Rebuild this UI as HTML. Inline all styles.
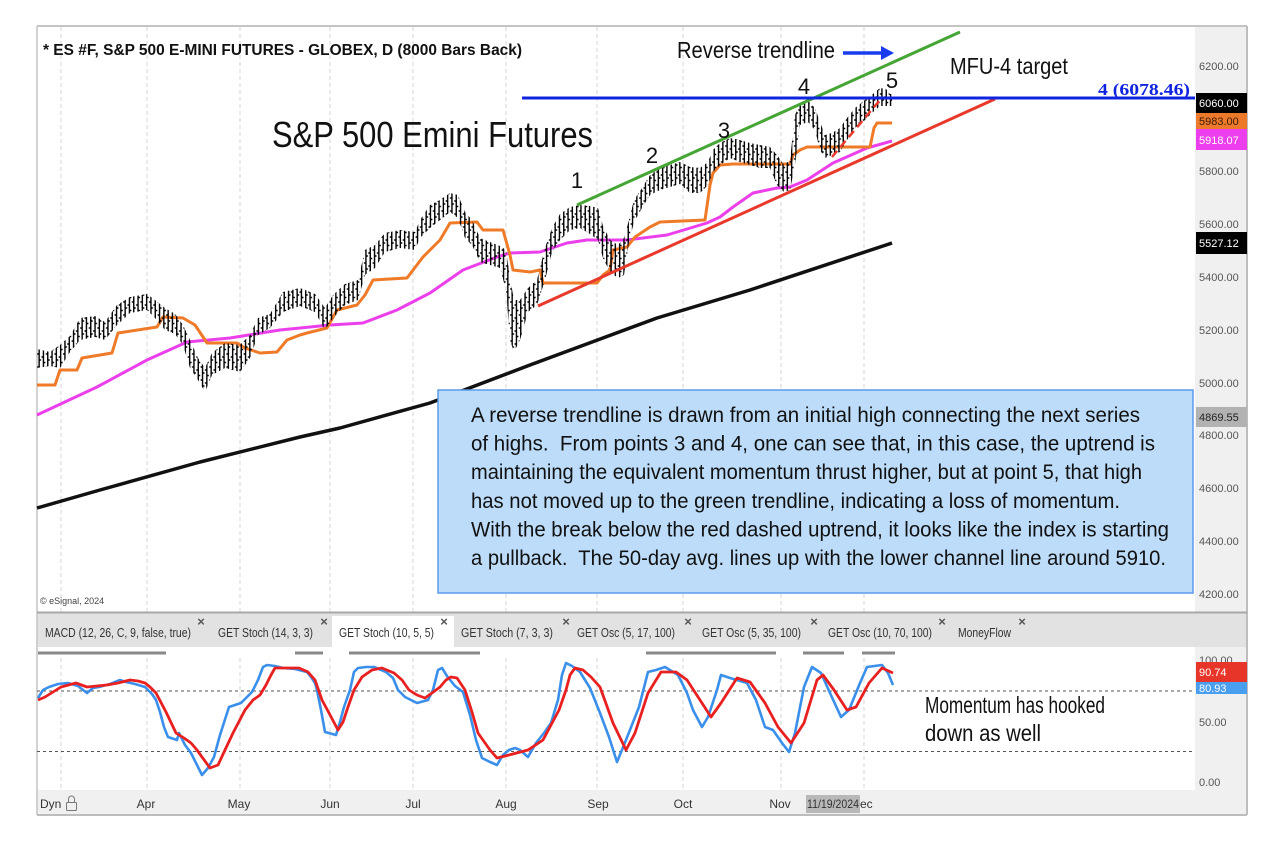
<!DOCTYPE html>
<html><head><meta charset="utf-8">
<style>
html,body{margin:0;padding:0;background:#fff;}
svg{display:block;font-family:"Liberation Sans",Arial,sans-serif;}
.ax{font-size:11px;fill:#555;}
.tab{font-size:12.5px;fill:#333;}
.x{font-size:13px;fill:#555;font-weight:bold;}
.bt{font-size:21px;fill:#111;white-space:pre;}
.dl{font-size:12px;fill:#333;}
</style></head><body>
<svg width="1280" height="843" viewBox="0 0 1280 843" xmlns="http://www.w3.org/2000/svg">
<defs>
<pattern id="bp" x="37" y="0" width="8.6" height="13" patternUnits="userSpaceOnUse">
<path d="M2.15 0V13M6.45 0V13M0.2 3H2.15M2.15 9H4.1M4.5 6H6.45M6.45 11.5H8.4" stroke="#000" stroke-width="1.4" fill="none"/>
</pattern>
</defs>
<rect width="1280" height="843" fill="#fff"/>

<!-- axis backgrounds -->
<rect x="1195" y="27" width="52" height="585" fill="#f0f0f0"/>
<rect x="1195" y="647" width="52" height="143" fill="#f0f0f0"/>
<rect x="37" y="790" width="1210" height="25" fill="#f0f0f0"/>
<!-- tab bar -->
<rect x="37" y="613" width="1210" height="34" fill="#e2e2e2"/>
<rect x="332" y="616" width="122" height="32" fill="#fff"/>

<!-- vertical grid -->
<g stroke="#d6d6d6" stroke-width="1" stroke-dasharray="4 3">
<path d="M61 27V612M147 27V612M240 27V612M330 27V612M413 27V612M506 27V612M597 27V612M683 27V612M781 27V612M864 27V612"/>
<path d="M61 658V790M147 658V790M240 658V790M330 658V790M413 658V790M506 658V790M597 658V790M683 658V790M781 658V790M864 658V790"/>
</g>

<!-- frame lines -->
<path d="M37 26H1247" stroke="#c4c4c4" stroke-width="2"/>
<path d="M37 26V815" stroke="#c4c4c4" stroke-width="1.5"/>
<path d="M1247 26V815" stroke="#bdbdbd" stroke-width="2"/>
<path d="M37 612.5H1247" stroke="#a8a8a8" stroke-width="2"/>
<path d="M37 815H1247" stroke="#bdbdbd" stroke-width="2"/>

<!-- header -->
<text x="43" y="55" font-size="16" font-weight="bold" fill="#111" textLength="479" lengthAdjust="spacingAndGlyphs">* ES #F, S&amp;P 500 E-MINI FUTURES - GLOBEX, D (8000 Bars Back)</text>
<text x="272" y="147" font-size="36" fill="#111" textLength="321" lengthAdjust="spacingAndGlyphs">S&amp;P 500 Emini Futures</text>
<text x="40" y="604" font-size="9" fill="#444">© eSignal, 2024</text>

<!-- MA200 black -->
<polyline fill="none" stroke="#111" stroke-width="3.5" stroke-linejoin="round" points="37,508 100,490 200,462 300,437 340,428 430,403 530,365 657,318 750,290 892,243"/>
<!-- magenta MA50 -->
<polyline fill="none" stroke="#ec3fec" stroke-width="3" stroke-linejoin="round" points="37,415 97,387 147,360 187,342 230,338 280,330 330,325 363,323 397,310 430,293 463,270 497,257 510,253 540,252 567,243 587,240 627,240 667,235 707,223 720,217 733,207 753,193 777,188 790,187 807,180 833,163 867,148 892,141"/>
<!-- orange -->
<polyline fill="none" stroke="#ef7a28" stroke-width="3" stroke-linejoin="round" points="37,385 55,385 60,370 77,370 82,358 112,353 118,333 157,327 163,317 183,318 195,325 203,337 207,343 237,343 245,348 260,353 277,352 287,340 300,335 307,333 327,328 337,310 357,305 365,295 373,280 407,278 423,257 440,240 450,223 477,222 483,230 503,230 510,255 513,270 530,272 540,270 543,283 597,283 603,275 610,270 613,250 627,247 635,237 650,227 660,222 705,220 710,185 713,173 720,165 733,164 790,164 793,155 800,150 807,147 870,147 874,128 877,123 892,123"/>

<!-- price bars (band filled with bar pattern) -->
<polygon fill="url(#bp)" points="37,349 50,352 60,345 70,336 80,318 95,316 105,322 117,305 130,297 147,294 155,300 165,308 175,314 183,325 190,340 198,358 205,368 212,353 225,343 240,345 250,335 258,318 270,314 283,292 300,288 315,294 325,308 333,295 345,284 358,280 365,250 375,245 385,233 400,230 415,232 420,220 430,205 440,200 450,193 458,195 465,212 472,220 480,238 490,242 500,246 506,250 510,278 514,300 520,300 528,288 537,280 545,248 552,228 560,214 570,207 580,205 590,206 598,208 603,226 610,240 618,245 624,238 629,220 634,200 642,188 650,175 660,168 670,165 680,162 690,167 700,168 708,162 713,150 720,143 730,138 740,140 750,143 760,145 770,147 777,155 784,165 790,160 795,115 800,103 808,101 815,108 820,122 825,135 832,133 840,128 847,118 855,108 865,100 873,94 880,88 886,89 890,94 892,94 892,106 890,106 886,106 880,106 873,112 865,120 855,128 847,140 840,152 832,155 825,158 820,150 815,130 808,122 800,125 795,165 790,190 784,192 777,185 770,168 760,168 750,165 740,162 730,158 720,165 713,172 708,185 700,193 690,193 680,184 670,187 660,190 650,195 642,208 634,222 629,242 624,275 618,278 610,272 603,258 598,240 590,234 580,228 570,230 560,240 552,252 545,280 537,305 528,312 520,340 514,352 510,340 506,290 500,268 490,265 480,262 472,245 465,238 458,218 450,212 440,220 430,228 420,238 415,250 400,248 385,252 375,268 365,275 358,300 345,305 333,318 325,330 315,312 300,306 283,312 270,328 258,335 250,358 240,372 225,368 212,375 205,392 198,380 190,368 183,345 175,334 165,330 155,318 147,310 130,313 117,325 105,340 95,337 80,340 70,352 60,368 50,366 37,368"/>

<!-- trendlines -->
<line x1="577" y1="205" x2="960" y2="32" stroke="#45a535" stroke-width="3"/>
<line x1="538" y1="306" x2="995" y2="99" stroke="#e8392b" stroke-width="3"/>
<line x1="832" y1="157" x2="880" y2="100" stroke="#e8392b" stroke-width="2.5" stroke-dasharray="8 5"/>
<line x1="522" y1="98" x2="1195" y2="98" stroke="#1024e0" stroke-width="3"/>
<text x="1098" y="95" font-family="Liberation Serif, serif" font-size="17" font-weight="bold" fill="#1024e0" textLength="92" lengthAdjust="spacingAndGlyphs">4 (6078.46)</text>

<!-- point labels -->
<g font-size="22" fill="#111" text-anchor="middle">
<text x="577" y="188">1</text>
<text x="652" y="163">2</text>
<text x="724" y="138">3</text>
<text x="804" y="94">4</text>
<text x="892" y="88">5</text>
</g>
<text x="677" y="58" font-size="23" fill="#111" textLength="158" lengthAdjust="spacingAndGlyphs">Reverse trendline</text>
<line x1="843" y1="53" x2="884" y2="53" stroke="#1a3cf0" stroke-width="3.5"/>
<polygon points="881,46 894,53 881,60" fill="#1a3cf0"/>
<text x="950" y="74" font-size="23" fill="#111" textLength="118" lengthAdjust="spacingAndGlyphs">MFU-4 target</text>

<!-- text box -->
<rect x="438" y="390" width="755" height="203" fill="#bcdcfa" stroke="#5a9cec" stroke-width="1.5"/>
<text class="bt" x="471" y="422" textLength="669" lengthAdjust="spacingAndGlyphs">A reverse trendline is drawn from an initial high connecting the next series</text>
<text class="bt" x="471" y="450.6" textLength="684" lengthAdjust="spacingAndGlyphs">of highs.  From points 3 and 4, one can see that, in this case, the uptrend is</text>
<text class="bt" x="471" y="479.2" textLength="671" lengthAdjust="spacingAndGlyphs">maintaining the equivalent momentum thrust higher, but at point 5, that high</text>
<text class="bt" x="471" y="507.8" textLength="649" lengthAdjust="spacingAndGlyphs">has not moved up to the green trendline, indicating a loss of momentum.</text>
<text class="bt" x="471" y="536.4" textLength="698" lengthAdjust="spacingAndGlyphs">With the break below the red dashed uptrend, it looks like the index is starting</text>
<text class="bt" x="471" y="565" textLength="695" lengthAdjust="spacingAndGlyphs">a pullback.  The 50-day avg. lines up with the lower channel line around 5910.</text>

<!-- price axis labels -->
<g class="ax">
<text x="1199" y="70">6200.00</text>
<text x="1199" y="175">5800.00</text>
<text x="1199" y="228">5600.00</text>
<text x="1199" y="281">5400.00</text>
<text x="1199" y="334">5200.00</text>
<text x="1199" y="387">5000.00</text>
<text x="1199" y="439">4800.00</text>
<text x="1199" y="492">4600.00</text>
<text x="1199" y="545">4400.00</text>
<text x="1199" y="598">4200.00</text>
</g>
<rect x="1196" y="93" width="51" height="20" fill="#000"/>
<text class="ax" x="1199" y="107" style="fill:#fff">6060.00</text>
<rect x="1196" y="113" width="51" height="16" fill="#ec7a2a"/>
<text class="ax" x="1199" y="125" style="fill:#3a1a05">5983.00</text>
<rect x="1196" y="129" width="51" height="21" fill="#ec3eec"/>
<text class="ax" x="1199" y="144" style="fill:#fff">5918.07</text>
<rect x="1196" y="232" width="51" height="22" fill="#000"/>
<text class="ax" x="1199" y="247" style="fill:#fff">5527.12</text>
<rect x="1196" y="407" width="51" height="20" fill="#b2b2b2"/>
<text class="ax" x="1199" y="421" style="fill:#222">4869.55</text>

<!-- tabs -->
<text class="tab" x="45" y="637" textLength="146" lengthAdjust="spacingAndGlyphs">MACD (12, 26, C, 9, false, true)</text>
<text class="tab" x="218" y="637" textLength="95" lengthAdjust="spacingAndGlyphs">GET Stoch (14, 3, 3)</text>
<text class="tab" x="339" y="637" textLength="95" lengthAdjust="spacingAndGlyphs">GET Stoch (10, 5, 5)</text>
<text class="tab" x="461" y="637" textLength="92" lengthAdjust="spacingAndGlyphs">GET Stoch (7, 3, 3)</text>
<text class="tab" x="577" y="637" textLength="98" lengthAdjust="spacingAndGlyphs">GET Osc (5, 17, 100)</text>
<text class="tab" x="702" y="637" textLength="99" lengthAdjust="spacingAndGlyphs">GET Osc (5, 35, 100)</text>
<text class="tab" x="828" y="637" textLength="104" lengthAdjust="spacingAndGlyphs">GET Osc (10, 70, 100)</text>
<text class="tab" x="958" y="637" textLength="53" lengthAdjust="spacingAndGlyphs">MoneyFlow</text>
<g class="x" text-anchor="middle">
<text x="201" y="626">×</text><text x="324" y="626">×</text><text x="444" y="626">×</text><text x="566" y="626">×</text>
<text x="688" y="626">×</text><text x="814" y="626">×</text><text x="942" y="626">×</text><text x="1022" y="626">×</text>
</g>
<!-- gray bars -->
<g stroke="#888" stroke-width="3">
<path d="M38 653H166M295 653H323M349 653H480M646 653H776M803 653H844M862 653H895"/>
</g>

<!-- lower pane dashed levels -->
<path d="M37 691H1195M37 751.5H1195" stroke="#555" stroke-width="1" stroke-dasharray="3 3"/>

<!-- stoch lines -->
<polyline fill="none" stroke="#3a8fea" stroke-width="2.6" stroke-linejoin="round" points="38,698 43,690 49,687 58,684 68,683 78,686 87,693 93,688 99,687 110,684 120,680 126,682 135,684 145,687 152,694 156,700 160,712 164,727 168,737 177,740 179,733 185,745 191,753 197,765 202,775 208,768 214,757 220,735 229,707 241,703 252,692 258,680 263,667 267,665 275,666 283,668 295,669 307,672 311,677 315,683 317,690 321,710 325,732 336,735 340,722 344,707 350,690 354,672 358,668 366,667 374,667 386,672 393,678 398,690 405,697 417,703 428,700 433,690 438,670 442,668 447,676 455,686 463,692 470,715 476,740 482,758 490,762 497,765 503,755 509,750 515,748 520,750 528,757 536,743 544,733 551,723 558,700 562,675 566,663 572,666 580,672 590,688 600,713 609,737 617,762 626,740 639,707 648,672 656,670 665,667 678,675 687,693 693,710 702,727 708,717 717,690 721,675 730,678 747,683 756,700 765,727 773,730 782,743 789,752 795,733 804,687 812,667 821,673 830,693 841,717 849,710 860,683 867,667 882,665 888,673 893,685"/>
<polyline fill="none" stroke="#e82020" stroke-width="2.8" stroke-linejoin="round" points="38,700 45,697 53,692 61,687 76,683 87,687 97,686 107,685 118,683 130,680 138,681 145,683 150,687 156,693 166,712 176,733 184,738 191,743 197,750 202,757 210,768 218,765 225,750 233,733 245,710 253,700 260,695 266,685 271,675 275,668 290,668 299,668 308,672 315,680 322,700 329,713 338,730 343,722 348,707 354,690 362,677 372,670 382,668 394,673 402,680 409,690 417,695 425,698 432,693 440,687 446,680 451,677 457,678 465,690 472,712 478,733 490,750 497,758 509,755 528,750 543,740 551,725 559,710 566,690 570,675 575,668 583,670 591,677 600,687 613,723 626,750 635,733 648,693 661,672 676,672 687,680 700,700 711,717 721,703 737,678 750,682 765,703 778,727 791,743 804,723 817,680 823,675 834,690 847,710 856,707 869,683 882,668 893,673"/>

<text x="925" y="713" font-size="23" fill="#111" textLength="180" lengthAdjust="spacingAndGlyphs">Momentum has hooked</text>
<text x="925" y="741" font-size="23" fill="#111" textLength="116" lengthAdjust="spacingAndGlyphs">down as well</text>

<!-- lower axis -->
<g class="ax">
<text x="1199" y="664">100.00</text>
<text x="1199" y="726">50.00</text>
<text x="1199" y="786">0.00</text>
</g>
<rect x="1196" y="682" width="51" height="12" fill="#4a9ef0"/>
<text class="ax" x="1199" y="692" style="fill:#fff">80.93</text>
<rect x="1196" y="662" width="51" height="20" fill="#e8352a"/>
<text class="ax" x="1199" y="676" style="fill:#fff">90.74</text>

<!-- date axis -->
<text class="dl" x="40" y="808">Dyn</text>
<g fill="none" stroke="#777" stroke-width="1">
<rect x="66.5" y="802.5" width="10" height="8" rx="1"/>
<path d="M68.5 802.5V799a3 3 0 0 1 6 0V802.5"/>
</g>
<g class="dl" text-anchor="middle">
<text x="146" y="808">Apr</text>
<text x="239" y="808">May</text>
<text x="330" y="808">Jun</text>
<text x="413" y="808">Jul</text>
<text x="506" y="808">Aug</text>
<text x="598" y="808">Sep</text>
<text x="683" y="808">Oct</text>
<text x="780" y="808">Nov</text>
</g>
<rect x="806" y="795" width="54" height="18" fill="#b8b8b8"/>
<text class="dl" x="807" y="808" textLength="52" lengthAdjust="spacingAndGlyphs">11/19/2024</text>
<text class="dl" x="860" y="808">ec</text>
</svg>
</body></html>
